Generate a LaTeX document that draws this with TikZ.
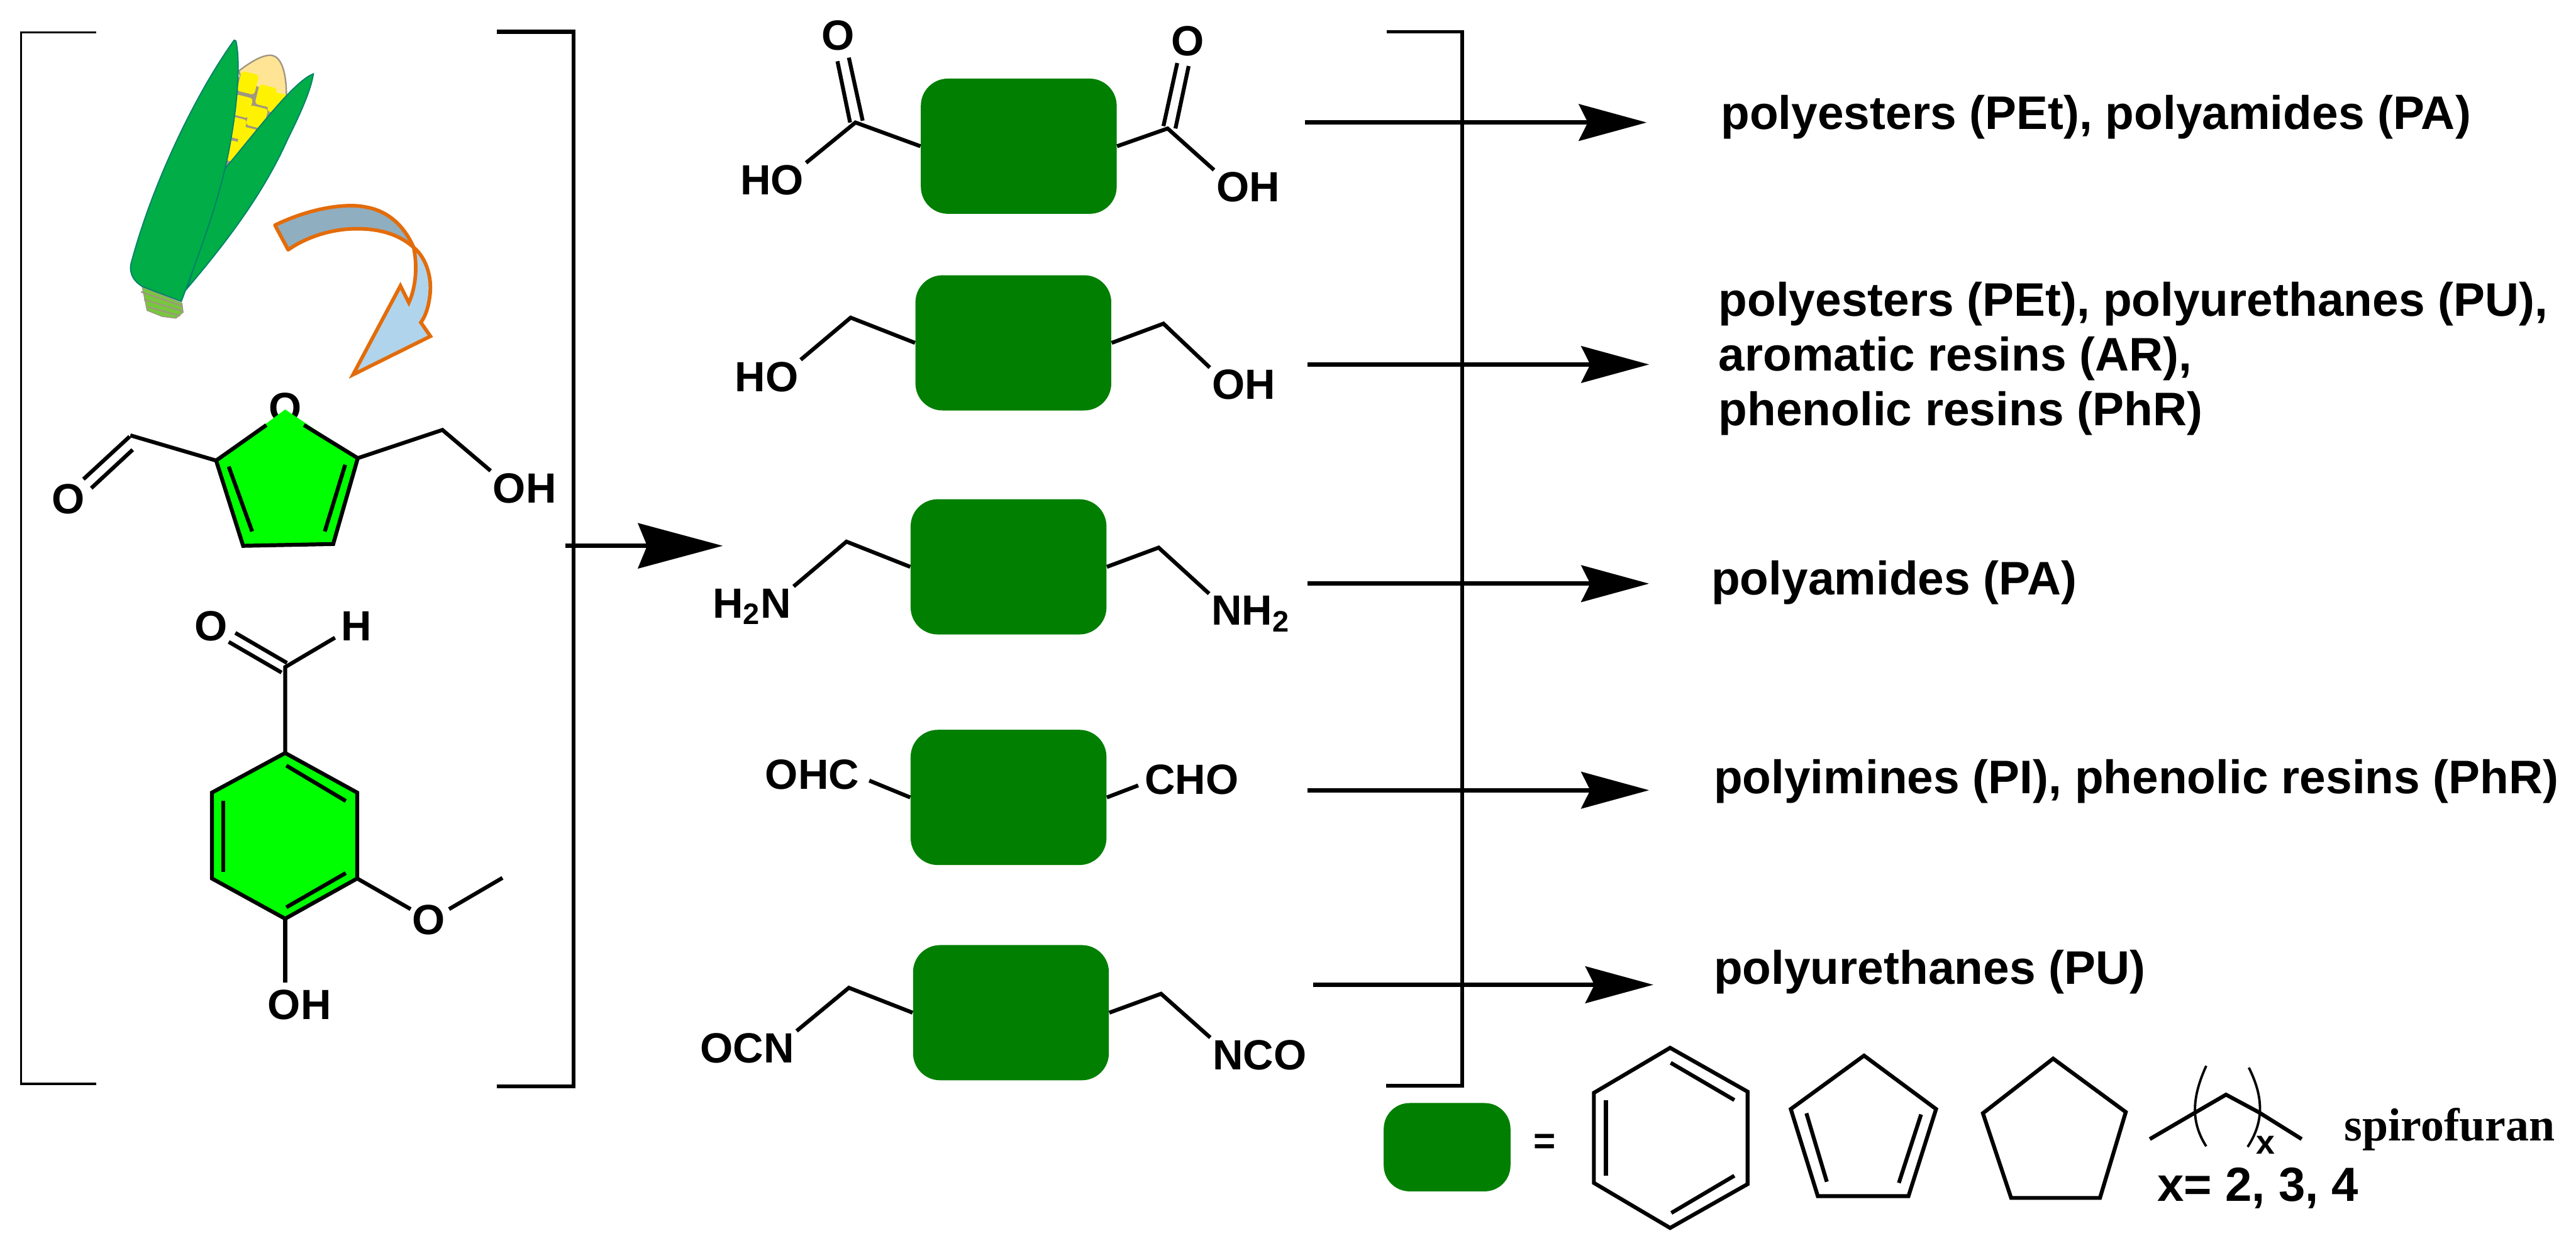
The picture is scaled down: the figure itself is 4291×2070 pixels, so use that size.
\documentclass[tikz,border=0pt]{standalone}
\usepackage{fontspec}
\setmainfont{Liberation Sans}
\newfontfamily\spirofont{Liberation Serif}
\usetikzlibrary{arrows.meta}
\definecolor{boxgreen}{RGB}{0,127,0}
\definecolor{ringgreen}{RGB}{0,255,0}
\definecolor{leafgreen}{RGB}{0,173,71}
\definecolor{leafedge}{RGB}{0,130,105}
\definecolor{stemgreen}{RGB}{118,200,60}
\definecolor{cobtip}{RGB}{255,228,150}
\definecolor{cobline}{RGB}{160,150,130}
\definecolor{swoosh}{RGB}{227,108,10}
\definecolor{swooshtail}{RGB}{143,174,192}
\definecolor{swooshhead}{RGB}{176,212,236}
\tikzset{
  bond/.style={line width=.065cm},
  brace/.style={line width=.06cm},
  outarrow/.style={line width=.07cm,-{Stealth[length=1.13cm,width=.61cm,inset=.15cm]}},
  greenbox/.style={rectangle,rounded corners=.45cm,fill=boxgreen,minimum width=3.26cm,minimum height=2.25cm,inner sep=0pt},
  atom/.style={font=\bfseries\fontsize{20pt}{24pt}\selectfont,inner sep=0pt,outer sep=.04cm},
  polymer/.style={font=\bfseries\fontsize{22.3pt}{25.9pt}\selectfont,inner sep=0pt,anchor=base west,align=left}
}
\begin{document}
\begin{tikzpicture}[x=.01cm,y=-.01cm]
    \useasboundingbox (0,0) rectangle (4291,2070);
    % brackets
    \draw[line width=.04cm](160,54)--(35,54)--(35,1805)--(160,1805);
    \draw[line width=.065cm](828,53)--(955,53)--(955,1809)--(828,1809);
    \draw[brace](2310,53)--(2436,53)--(2436,1808)--(2309,1808);
    % corn
    \filldraw[fill=stemgreen,draw=cobline,line width=.015cm](237,478)--(303,505)--(305,520)--(293,530)--(270,527)--(245,517)--cycle;
    \foreach \a/\b/\c/\d in {235/486/304/510,240/499/304/518,246/511/300/526}{
        \draw[line width=.025cm,cobline](\a,\b)--(\c,\d);
    }
    \filldraw[fill=cobtip,draw=cobline,line width=.025cm](398,118) .. controls (415,105) and (435,92) .. (450,92) .. controls (470,92) and (478,125) .. (477,165) -- (420,200) -- cycle;
    \fill[cobline](373,283)--(392,125)--(470,165)--(395,262)--cycle;
    \foreach \x/\y in {413/138,443/160,403/177,428/195,393/213,413/230,380/250,396/254,463/172}{
        \fill[yellow,rounded corners=.05cm,rotate around={-14:(\x,\y)}](\x-15,\y-17) rectangle (\x+15,\y+17);
    }
    \filldraw[fill=leafgreen,draw=leafedge,line width=.02cm](522,123) .. controls (490,135) and (430,215) .. (373,283) -- (312,480) .. controls (380,400) and (440,320) .. (480,230) .. controls (500,190) and (518,150) .. (522,123) -- cycle;
    \filldraw[fill=leafgreen,draw=leafedge,line width=.02cm](390,67) .. controls (330,150) and (255,300) .. (218,440) .. controls (215,458) and (225,470) .. (237,477) -- (302,502) .. controls (340,400) and (370,320) .. (385,230) .. controls (397,160) and (400,100) .. (393,68) -- cycle;
    % curved arrow
    \filldraw[fill=swooshtail,draw=swoosh,line width=.06cm,line join=round](458,375) .. controls (520,345) and (580,338) .. (610,345) .. controls (650,352) and (675,380) .. (689,412) .. controls (670,395) and (640,380) .. (590,381) .. controls (550,382) and (510,395) .. (480,416) -- cycle;
    \filldraw[fill=swooshhead,draw=swoosh,line width=.06cm](689,412) .. controls (705,425) and (717,450) .. (717,480) .. controls (716,505) and (710,525) .. (701,537) -- (717,560) -- (588,624) -- (667,476) -- (681,504) .. controls (690,485) and (697,450) .. (689,412) -- cycle;
    % hydroxymethylfurfural
    \node[atom] (foO) at (475,679) {O};
    \node[atom] (foA) at (114,831) {O};
    \node[atom] (foH) at (874,813) {OH};
    \coordinate (fa) at (596,763);\coordinate (fb) at (555,906);\coordinate (fc) at (405,909);\coordinate (fd) at (360,767);
    \coordinate (fe) at (217,725);\coordinate (ff) at (737,716);
    \coordinate (foa) at (139,798);\coordinate (fob) at (152,813);\coordinate (fea) at (216,727);\coordinate (feb) at (221,749);
    \coordinate (fia) at (381,777);\coordinate (fib) at (420,885);\coordinate (fic) at (575,774);\coordinate (fid) at (541,885);
    \fill[ringgreen](475,682)--(fa)--(fb)--(fc)--(fd)--cycle;
    \draw[bond](foO.south west)--(fd)--(fc)--(fb)--(fa)--(foO.south east);
    \draw[bond](fia)--(fib);\draw[bond](fic)--(fid);
    \draw[bond](fd)--(fe);\draw[bond](foa)--(fea);\draw[bond](fob)--(feb);
    \draw[bond](fa)--(ff)--(foH.north west);
    % vanillin
    \coordinate (va) at (475,1254);\coordinate (vb) at (595,1320);\coordinate (vc) at (595,1463);
    \coordinate (vd) at (475,1530);\coordinate (ve) at (353,1463);\coordinate (vf) at (353,1320);
    \coordinate (via) at (477,1275);\coordinate (vib) at (576,1334);\coordinate (vic) at (372,1334);\coordinate (vid) at (372,1452);
    \coordinate (vie) at (477,1511);\coordinate (vif) at (576,1454);
    \filldraw[fill=ringgreen,bond](va)--(vb)--(vc)--(vd)--(ve)--(vf)--cycle;
    \draw[bond](via)--(vib);\draw[bond](vic)--(vid);\draw[bond](vie)--(vif);
    \node[atom] (vaOa) at (352,1043) {O};
    \node[atom] (vaH) at (594,1043) {H};
    \node[atom] (vaOH) at (499,1673) {OH};
    \node[atom] (vaO) at (714,1532) {O};
    \coordinate (vg) at (475,1111);\coordinate (vh) at (558,1062);\coordinate (vk) at (475,1636);
    \coordinate (vl) at (684,1514);\coordinate (vm) at (748,1514);\coordinate (vn) at (837,1462);
    \coordinate (voa) at (469,1120);\coordinate (vob) at (381,1069);\coordinate (voc) at (478,1104);\coordinate (vod) at (392,1054);
    \draw[bond](va)--(vg)--(vh);\draw[bond](voa)--(vob);\draw[bond](voc)--(vod);
    \draw[bond](vd)--(vk);\draw[bond](vc)--(vl);\draw[bond](vm)--(vn);
    % big arrow from the left bracket
    \coordinate (feedS) at (942,909);\coordinate (feedE) at (1204,909);
    \draw[line width=.07cm,-{Stealth[length=1.41cm,width=.75cm,inset=.15cm]}](feedS)--(feedE);
    % monomers
    \node[greenbox] (boxA) at (1697,243.5) {};
    \node[greenbox] (boxB) at (1688,571) {};
    \node[greenbox] (boxC) at (1680,944) {};
    \node[greenbox] (boxD) at (1680,1328) {};
    \node[greenbox] (boxE) at (1684,1686.5) {};
    % diacid
    \node[atom] (acLO) at (1396,59) {O};
    \node[atom] (acLH) at (1286,300) {HO};
    \node[atom] (acRO) at (1978,68) {O};
    \node[atom] (acRH) at (2079,312) {OH};
    \coordinate (cl) at (1425,204);\coordinate (cr) at (1945,214);
    \coordinate (cla) at (1416,204);\coordinate (clb) at (1395,102);\coordinate (clc) at (1437,201);\coordinate (cld) at (1414,96);
    \coordinate (cra) at (1938,210);\coordinate (crb) at (1961,105);\coordinate (crc) at (1958,214);\coordinate (crd) at (1980,110);
    \draw[bond](boxA.west)--(cl)--(acLH.north east);
    \draw[bond](boxA.east)--(cr)--(acRH.north west);
    \draw[bond](cla)--(clb);\draw[bond](clc)--(cld);\draw[bond](cra)--(crb);\draw[bond](crc)--(crd);
    % diol
    \node[atom] (olL) at (1277,628) {HO};
    \node[atom] (olR) at (2072,641) {OH};
    \coordinate (ol) at (1417,529);\coordinate (or) at (1938,539);
    \draw[bond](boxB.west)--(ol)--(olL.north east);
    \draw[bond](boxB.east)--(or)--(olR.north west);
    % diamine
    \node[atom,anchor=base east] (amL) at (1322,1029) {H\textsubscript{2}N};
    \node[atom,anchor=base west] (amR) at (2014,1041) {NH\textsubscript{2}};
    \coordinate (al) at (1410,902);\coordinate (ar) at (1930,912);
    \draw[bond](boxC.west)--(al)--(amL.north east);
    \draw[bond](boxC.east)--(ar)--(amR.north west);
    % dialdehyde
    \node[atom,anchor=base east] (alL) at (1435,1314) {OHC};
    \node[atom,anchor=base west] (alR) at (1903,1323) {CHO};
    \coordinate (dl) at (1448,1300);\coordinate (dr) at (1896,1308);
    \draw[bond](boxD.west)--(dl);
    \draw[bond](boxD.east)--(dr);
    % diisocyanate
    \node[atom,anchor=base east] (ocL) at (1327,1770) {OCN};
    \node[atom,anchor=base west] (ocR) at (2016,1781) {NCO};
    \coordinate (il) at (1414,1645);\coordinate (ir) at (1934,1655);
    \draw[bond](boxE.west)--(il)--(ocL.north east);
    \draw[bond](boxE.east)--(ir)--(ocR.north west);
    % arrows to polymers
    \foreach \n/\xs/\ys/\xe in {a/2174/204/2743,b/2178/607/2747,c/2178/972/2747,d/2178/1316/2747,e/2187/1640/2754}{
        \coordinate (s\n) at (\xs,\ys);
        \coordinate (e\n) at (\xe,\ys);
        \draw[outarrow](s\n)--(e\n);
    }
    \node[polymer] (polA) at (2866,215) {polyesters (PEt), polyamides (PA)};
    \node[polymer] (polB) at (2862,709) {polyesters (PEt), polyurethanes (PU),\\aromatic resins (AR),\\phenolic resins (PhR)};
    \node[polymer] (polC) at (2850,991) {polyamides (PA)};
    \node[polymer] (polD) at (2854,1322) {polyimines (PI), phenolic resins (PhR)};
    \node[polymer] (polE) at (2854,1639) {polyurethanes (PU)};
    % legend
    \node[greenbox,minimum width=2.11cm,minimum height=1.47cm,rounded corners=.43cm] (boxKey) at (2410.5,1910.5) {};
    \node[font=\bfseries\fontsize{18pt}{20pt}\selectfont,inner sep=0pt] (keyEq) at (2573,1905) {=};
    % benzene
    \coordinate (ba) at (2782,1745);\coordinate (bb) at (2911,1818);\coordinate (bc) at (2911,1972);
    \coordinate (bd) at (2782,2045);\coordinate (be) at (2655,1970);\coordinate (bf) at (2655,1820);
    \draw[bond](ba)--(bb)--(bc)--(bd)--(be)--(bf)--cycle;
    \coordinate (bia) at (2783,1770);\coordinate (bib) at (2889,1832);\coordinate (bic) at (2675,1832);\coordinate (bid) at (2675,1958);
    \coordinate (bie) at (2889,1958);\coordinate (bif) at (2784,2020);
    \draw[bond](bia)--(bib);\draw[bond](bic)--(bid);\draw[bond](bie)--(bif);
    % cyclopentadiene
    \coordinate (pa) at (3105,1758);\coordinate (pb) at (3225,1847);\coordinate (pc) at (3179,1992);
    \coordinate (pd) at (3028,1992);\coordinate (pe) at (2983,1847);
    \draw[bond](pa)--(pb)--(pc)--(pd)--(pe)--cycle;
    \coordinate (pia) at (3009,1854);\coordinate (pib) at (3043,1968);\coordinate (pic) at (3200,1856);\coordinate (pid) at (3163,1970);
    \draw[bond](pia)--(pib);\draw[bond](pic)--(pid);
    % cyclopentane
    \coordinate (qa) at (3420,1763);\coordinate (qb) at (3541,1852);\coordinate (qc) at (3498,1995);
    \coordinate (qd) at (3350,1995);\coordinate (qe) at (3303,1854);
    \draw[bond](qa)--(qb)--(qc)--(qd)--(qe)--cycle;
    % alkyl chain
    \coordinate (ka) at (3581,1897);\coordinate (kb) at (3658,1852);\coordinate (kc) at (3708,1823);
    \coordinate (kd) at (3762,1852);\coordinate (ke) at (3834,1897);
    \draw[bond](ka)--(kb)--(kc)--(kd)--(ke);
    \draw[line width=.04cm](3675,1775) .. controls (3650,1830) and (3650,1870) .. (3675,1909);
    \draw[line width=.04cm](3746,1778) .. controls (3772,1830) and (3770,1870) .. (3744,1910);
    \node[font=\bfseries\fontsize{16pt}{18pt}\selectfont,inner sep=0pt] (keyX) at (3774,1907) {x};
    \node[font=\bfseries\fontsize{22.7pt}{25pt}\selectfont,inner sep=0pt,anchor=base west] (keyVal) at (3593,2000) {x= 2, 3, 4};
    \node[font=\spirofont\bfseries\fontsize{22pt}{25pt}\selectfont,inner sep=0pt,anchor=base west] (keySp) at (3904,1900) {spirofuran};
\end{tikzpicture}
\end{document}
